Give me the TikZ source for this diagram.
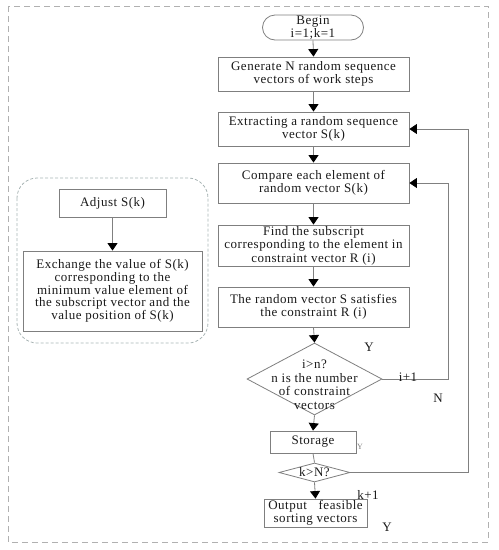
\documentclass[tikz,border=0pt]{standalone}
\usepackage{fontspec}
\setmainfont{Liberation Serif}[LetterSpace=4]
\usetikzlibrary{arrows.meta,shapes.geometric,shapes.misc}
\definecolor{boxgray}{HTML}{7F7F7F}
\definecolor{linegray}{HTML}{808080}
\definecolor{dashgray}{HTML}{B0B0B0}
\definecolor{grpgray}{HTML}{A8B4B4}
\definecolor{txt}{HTML}{1A1A1A}
\tikzset{
  box/.style={draw=boxgray, line width=0.8pt, fill=white, text=txt,
    font=\fontsize{13}{13.5}\selectfont, align=center, inner sep=0pt},
  dia/.style={draw=boxgray, line width=0.8pt, diamond, inner sep=0pt, fill=white},
  lbl/.style={text=txt, font=\fontsize{13}{13.5}\selectfont, align=center, inner sep=0pt},
  arr/.style={draw=linegray, line width=0.8pt, -{Triangle[width=10pt,length=7.5pt,color=black]}},
  ln/.style={draw=linegray, line width=0.8pt},
}
\begin{document}
\begin{tikzpicture}[x=1pt,y=-1pt]
\useasboundingbox (0,0) rectangle (499,550);
% outer dashed frame
\draw[dashgray, line width=0.8pt, dash pattern=on 6pt off 4pt] (8,6) rectangle (488,542);
% left group
\draw[grpgray, line width=0.8pt, dash pattern=on 3pt off 2pt, rounded corners=20pt] (17,178) rectangle (208,343);

\node[box, rounded rectangle, minimum width=101pt, minimum height=25pt] (begin) at (313,27.5) {Begin\\i=1;k=1};
\node[box, minimum width=191pt, minimum height=34pt] (gen) at (313.5,74) {Generate N random sequence\\vectors of work steps};
\node[box, minimum width=191pt, minimum height=34pt] (ext) at (313.5,129) {Extracting a random sequence\\vector S(k)};
\node[box, minimum width=191pt, minimum height=40pt] (cmp) at (313.5,183) {Compare each element of\\random vector S(k)};
\node[box, minimum width=191pt, minimum height=41pt] (find) at (313.5,245.5) {Find the subscript\\corresponding to the element in\\constraint vector R (i)};
\node[box, minimum width=191pt, minimum height=40pt] (sat) at (313.5,307) {The random vector S satisfies\\the constraint R (i)};
\node[dia, minimum width=135pt, minimum height=72pt] (d1) at (314.5,379) {};
\node[lbl] (d1t) at (314.5,385) {i>n?\\n is the number\\of constraint\\vectors};
\node[box, minimum width=86pt, minimum height=22pt] (stor) at (313,442) {Storage};
\node[dia, minimum width=71pt, minimum height=19pt] (d2) at (314.5,472.5) {};
\node[lbl] (d2t) at (314.5,472.5) {k>N?};
\node[box, minimum width=103pt, minimum height=28pt] (out) at (315.5,513) {Output\hspace{0.6em} feasible\\sorting vectors};

\node[box, minimum width=107pt, minimum height=28pt] (adj) at (112.5,203) {Adjust S(k)};
\node[box, minimum width=179pt, minimum height=80pt, font=\fontsize{13}{12.6}\selectfont] (exch) at (112.5,291) {Exchange the value of S(k)\\corresponding to the\\minimum value element of\\the subscript vector and the\\value position of S(k)};

\coordinate (r1) at (448,183);
\coordinate (r2) at (468,129);

\draw[arr] (begin.south) -- (gen.north);
\draw[arr] (gen.south) -- (ext.north);
\draw[arr] (ext.south) -- (cmp.north);
\draw[arr] (cmp.south) -- (find.north);
\draw[arr] (find.south) -- (sat.north);
\draw[arr] (sat.south) -- (d1.north);
\draw[arr] (d1.south) -- (stor.north);
\draw[ln] (stor.south) -- (d2.north);
\draw[arr] (d2.south) -- (out.north);
\draw[arr] (d1.east) -| (r1) -- (cmp.east);
\draw[arr] (d2.east) -| (r2) -- (ext.east);
\draw[arr] (adj.south) -- (exch.north);

\node[lbl] (ly1) at (369,347) {Y};
\node[lbl] (li1) at (408,377) {i+1};
\node[lbl] (ln1) at (438,398) {N};
\node[lbl, text=linegray, font=\fontsize{8}{9}\selectfont] (ly2) at (360,447) {Y};
\node[lbl] (lk1) at (368,495) {k+1};
\node[lbl] (ly3) at (387,527) {Y};
\end{tikzpicture}
\end{document}
